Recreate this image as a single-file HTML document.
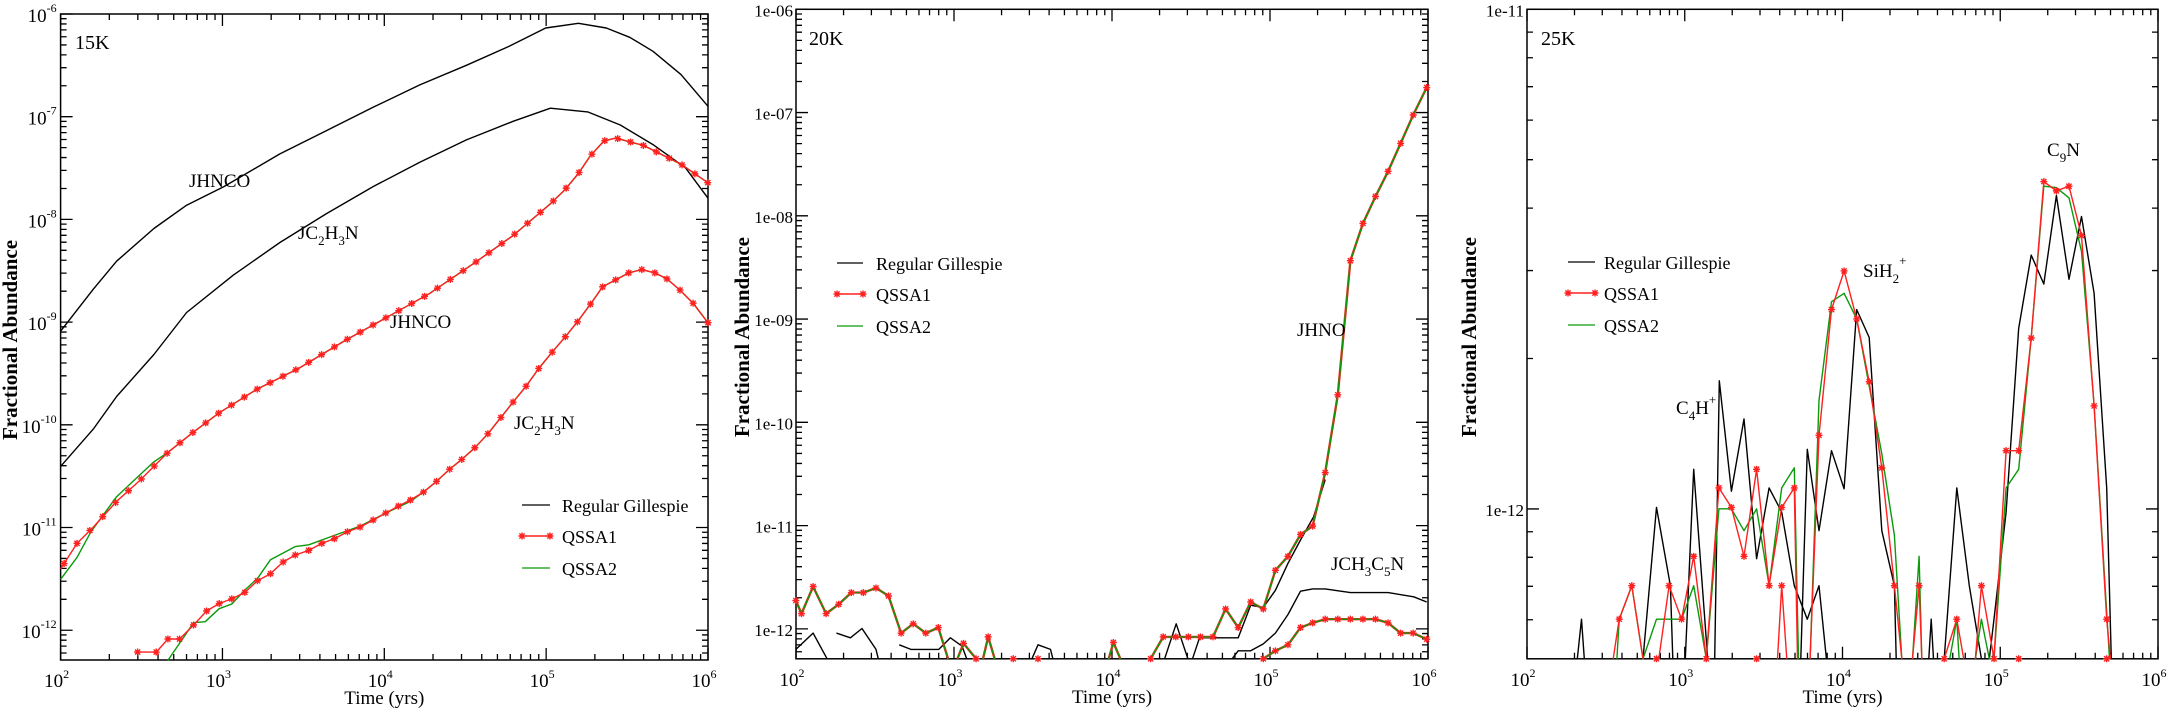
<!DOCTYPE html>
<html><head><meta charset="utf-8"><style>
html,body{margin:0;padding:0;background:#fff}
svg{display:block;font-family:"Liberation Serif",serif}
</style></head><body>
<svg id="s" width="2170" height="708" xmlns="http://www.w3.org/2000/svg"></svg>
<script>
const S=document.getElementById('s');const NS='http://www.w3.org/2000/svg';
function el(t,a,txt){const e=document.createElementNS(NS,t);for(const k in a)e.setAttribute(k,a[k]);if(txt!==undefined)e.textContent=txt;S.appendChild(e);return e;}
function txt(x,y,html,size,anchor,extra){const e=document.createElementNS(NS,'text');e.setAttribute('x',x);e.setAttribute('y',y);e.setAttribute('font-size',size);e.setAttribute('text-anchor',anchor||'start');if(extra)for(const k in extra)e.setAttribute(k,extra[k]);e.innerHTML=html;S.appendChild(e);return e;}
const P=[
 {ox:0,sc:2.144,L:60.6,R:708,T:14,B:660,ytop:-6,ybot:-12.29,decs:[-6,-7,-8,-9,-10,-11,-12],fmt:'pow',yt:10},
 {ox:720,sc:2.148,L:796,R:1428,T:9.3,B:658.8,ytop:-6,ybot:-12.29,decs:[-6,-7,-8,-9,-10,-11,-12],fmt:'e',yt:742},
 {ox:1440,sc:2.148,L:1527,R:2158,T:9.3,B:658.8,ytop:-11,ybot:-12.3,decs:[-11,-12],fmt:'e',yt:1469}
];
P.forEach((p,i)=>{
 const X=l=>p.L+(l-2)/4*(p.R-p.L);const Y=l=>p.T+(p.ytop-l)/(p.ytop-p.ybot)*(p.B-p.T);
 el('rect',{x:p.L,y:p.T,width:p.R-p.L,height:p.B-p.T,fill:'none',stroke:'#000','stroke-width':1.5});
 let d='';
 for(let dec=2;dec<6;dec++)for(let m=1;m<10;m++){const x=X(dec+Math.log10(m));const len=m==1?12:6;d+=`M${x} ${p.B}v${-len}M${x} ${p.T}v${len}`;}
 d+=`M${p.R} ${p.B}v-12M${p.R} ${p.T}v12`;
 for(let dec=Math.floor(p.ybot);dec<p.ytop;dec++)for(let m=1;m<10;m++){const l=dec+Math.log10(m);if(l<p.ybot||l>p.ytop)continue;const y=Y(l);const len=m==1?12:6;d+=`M${p.L} ${y}h${len}M${p.R} ${y}h${-len}`;}
 d+=`M${p.L} ${Y(p.ytop)}h12M${p.R} ${Y(p.ytop)}h-12`;
 el('path',{d:d,stroke:'#000','stroke-width':1.3,fill:'none'});
 for(let dec=2;dec<=6;dec++){txt(X(dec)-4,p.B+27,`10<tspan font-size="12" dy="-9">${dec}</tspan>`,19,'middle');}
 p.decs.forEach(v=>{const y=Y(v);if(p.fmt=='pow')txt(p.L-4,y+8,`10<tspan font-size="12" dy="-10">${v}</tspan>`,19,'end');else txt(p.L-3,y+7,'1e'+(v>-10?'-0'+(-v):v),17,'end');});
 txt((p.L+p.R)/2,p.B+44,'Time (yrs)',19,'middle');
 const cy=(p.T+p.B)/2+3;
 txt(p.yt+7,cy,'Fractional Abundance',21,'middle',{'font-weight':'bold',transform:`rotate(-90 ${p.yt+7} ${cy})`});
});
function line(pi,pts,color,w){const p=P[pi];const d=pts.map((q,k)=>(k?'L':'M')+(p.ox+q[0]/p.sc).toFixed(1)+' '+(q[1]/p.sc).toFixed(1)).join('');el('path',{d:d,stroke:color,'stroke-width':w||1.4,fill:'none','stroke-linejoin':'round'});}
function stars(pi,pts){const p=P[pi];pts.forEach(q=>{const x=p.ox+q[0]/p.sc,y=q[1]/p.sc;el('path',{d:`M${x-3.5} ${y}h7M${x} ${y-3.5}v7M${x-2.6} ${y-2.6}l5.2 5.2M${x-2.6} ${y+2.6}l5.2 -5.2`,stroke:'#ff2020','stroke-width':1.4});});}
function interp(pts,x){for(let k=0;k<pts.length-1;k++){if(x>=pts[k][0]&&x<=pts[k+1][0]){const t=(x-pts[k][0])/(pts[k+1][0]-pts[k][0]||1);return pts[k][1]+t*(pts[k+1][1]-pts[k][1]);}}return null;}
function gridStars(pi,pts,x0,step){const out=[];for(let x=x0;x<=pts[pts.length-1][0]+0.5;x+=step){const y=interp(pts,Math.min(x,pts[pts.length-1][0]));if(y!==null)out.push([x,y]);}stars(pi,out);}
function multi(pi,segs,color,w){segs.forEach(s=>line(pi,s,color,w));}
// Panel 1
line(0,[[130,710],[200,620],[250,560],[330,490],[400,440],[480,400],[600,330],[700,280],[800,230],[900,182],[1000,140],[1090,100],[1170,60],[1240,50],[1300,60],[1350,80],[1400,110],[1460,160],[1518,228]],'#000');
line(0,[[130,1000],[200,920],[250,850],[330,760],[400,670],[500,590],[600,520],[700,458],[800,400],[900,348],[1000,300],[1100,260],[1180,232],[1260,240],[1330,268],[1400,310],[1470,360],[1518,425]],'#000');
const m1=[[130,1220],[165,1165],[200,1130],[250,1075],[300,1030],[330,1000],[360,970],[410,930],[470,885],[550,835],[640,790],[740,730],[830,680],[920,630],[1020,562],[1100,505],[1180,437],[1210,408],[1240,372],[1265,335],[1295,302],[1320,296],[1380,312],[1460,352],[1518,392]];
line(0,[[130,1242],[165,1195],[195,1140],[250,1065],[330,990],[360,970],[410,930]].concat(m1.slice(7)),'#0a9a0a');
line(0,m1,'#ff2020');gridStars(0,m1,137.5,27.6);
const l1=[[295,1398],[335,1398],[360,1370],[385,1370],[415,1340],[443,1310],[470,1294],[497,1284],[525,1270],[552,1245],[580,1230],[607,1205],[633,1190],[662,1180],[690,1165],[717,1155],[745,1140],[772,1130],[800,1115],[827,1100],[854,1085],[880,1072],[908,1055],[936,1032],[964,1006],[990,985],[1018,960],[1046,930],[1074,895],[1100,862],[1128,828],[1155,790],[1184,755],[1212,722],[1238,690],[1266,652],[1292,615],[1320,600],[1348,585],[1376,578],[1404,585],[1430,598],[1458,622],[1486,650],[1518,692]];
line(0,[[360,1416],[415,1335],[440,1333],[470,1305],[497,1295],[525,1265],[552,1240],[580,1200],[633,1172],[662,1168],[717,1148],[772,1128],[827,1100],[880,1075]].concat(l1.slice(22)),'#0a9a0a');
line(0,l1,'#ff2020');stars(0,l1);
// Panel 2
const g2=[[[163,1290],[175,1318],[200,1260],[228,1318],[255,1298],[282,1273],[308,1273],[335,1263],[362,1280],[389,1360],[415,1340],[442,1360],[469,1348],[490,1415]],[[510,1415],[523,1382],[550,1415]],[[565,1415],[576,1368],[590,1415]],[[835,1415],[845,1380],[860,1415]],[[925,1415],[952,1368],[979,1368],[1006,1368],[1032,1368],[1059,1368],[1086,1308],[1113,1348],[1140,1293],[1167,1308],[1193,1225],[1220,1195],[1247,1148],[1273,1130],[1300,1015],[1327,848],[1354,560],[1381,480],[1408,422],[1435,368],[1462,308],[1489,247],[1518,188]]];
multi(1,[[[163,1395],[200,1360],[230,1415]],[[250,1360],[280,1370],[305,1350],[335,1395],[340,1415]],[[385,1385],[410,1395],[470,1395],[495,1370],[520,1388],[530,1415]],[[670,1415],[683,1385],[710,1395],[715,1415]],[[955,1415],[980,1340],[1005,1415]],[[1015,1415],[1030,1370],[1113,1370],[1140,1300],[1167,1305],[1193,1268],[1220,1210],[1247,1160],[1275,1110],[1300,1030]],[[1100,1415],[1113,1398],[1140,1398],[1167,1383],[1193,1360],[1220,1320],[1247,1270],[1273,1265],[1300,1265],[1354,1273],[1435,1273],[1490,1282],[1518,1293]]],'#000');
const c2=[[1167,1415],[1193,1398],[1220,1385],[1247,1348],[1273,1338],[1300,1330],[1327,1330],[1354,1330],[1381,1330],[1408,1330],[1435,1338],[1462,1360],[1489,1360],[1518,1373]];
multi(1,g2,'#ff2020',2.4);multi(1,g2,'#0a9a0a',1.4);line(1,c2,'#ff2020',2.4);line(1,c2,'#0a9a0a',1.4);
g2.forEach(s=>stars(1,s.filter(q=>!(q[1]==1415&&(q[0]==490||q[0]==510||q[0]==565||q[0]==590||q[0]==835||q[0]==860)))));
stars(1,[[630,1415],[683,1415]]);stars(1,c2);
// Panel 3
multi(2,[[[295,1415],[304,1330],[310,1415]],[[436,1415],[465,1090],[495,1258],[500,1415]],[[527,1415],[545,1008],[575,1415]],[[590,1415],[600,818],[626,1055],[653,900],[680,1200],[707,1048],[734,1100],[761,1258],[789,1330],[814,1258],[830,1415]],[[775,1415],[789,965],[814,1140],[841,968],[868,1050],[895,665],[922,725],[949,1140],[976,1258],[980,1415]],[[1050,1415],[1055,1330],[1060,1415]],[[1083,1415],[1110,1048],[1137,1258],[1163,1415]],[[1180,1415],[1190,1330],[1216,1100],[1243,705],[1270,548],[1297,610],[1324,420],[1351,600],[1378,465],[1405,630],[1432,1048],[1442,1415]]],'#000');
multi(2,[[[380,1415],[385,1330],[412,1258],[436,1415],[465,1330],[519,1330],[545,1258],[572,1415],[599,1093],[626,1093],[653,1140],[680,1093],[707,1258],[734,1048],[761,1005],[770,1415]],[[795,1415],[814,860],[841,648],[868,630],[895,685],[949,975],[976,1150],[992,1415]],[[1015,1415],[1029,1195],[1035,1415]],[[1095,1415],[1110,1330],[1115,1415]],[[1150,1415],[1163,1330],[1180,1415],[1190,1415],[1216,1048],[1243,1008],[1270,726],[1297,400],[1324,403],[1351,425],[1378,540],[1405,870],[1438,1415]]],'#0a9a0a');
const r3=[[[372,1415],[385,1330],[412,1258],[436,1415]],[[470,1415],[492,1258],[519,1330],[545,1195],[572,1415],[599,1048],[626,1090],[653,1195],[680,1008],[707,1258],[734,1090],[761,1048],[768,1415]],[[725,1415],[734,1258],[745,1415]],[[795,1415],[814,935],[841,665],[868,582],[895,685],[922,820],[949,1005],[976,1258],[992,1415]],[[1015,1415],[1029,1258],[1035,1415]],[[1083,1415],[1110,1330],[1125,1415]],[[1150,1415],[1163,1258],[1190,1415],[1216,968],[1243,968],[1270,726],[1297,390],[1324,410],[1351,400],[1378,506],[1405,872],[1432,1330],[1440,1415]]];
multi(2,r3,'#ff2020',1.4);
stars(2,[[385,1330],[412,1258],[492,1258],[519,1330],[545,1195],[572,1415],[599,1048],[626,1090],[653,1195],[680,1008],[707,1258],[734,1090],[734,1258],[761,1048],[814,935],[841,665],[868,582],[895,685],[922,820],[949,1005],[976,1258],[1029,1258],[1110,1330],[1163,1258],[1216,968],[1243,968],[1270,726],[1297,390],[1324,410],[1351,400],[1378,506],[1405,872],[1432,1330],[465,1415],[680,1415],[1083,1415],[1190,1415],[1243,1415],[1432,1415]]);
// Legends
[[522,550,505,562],[837,863,263,876],[1568,1595,262,1604]].forEach(g=>{const [a,b,y,tx]=g;
 el('line',{x1:a,x2:b,y1:y,y2:y,stroke:'#000','stroke-width':1.3});
 el('line',{x1:a,x2:b,y1:y+31,y2:y+31,stroke:'#ff2020','stroke-width':1.6});
 [[a,y+31],[b,y+31]].forEach(q=>{const x=q[0],yy=q[1];el('path',{d:`M${x-3.5} ${yy}h7M${x} ${yy-3.5}v7M${x-2.6} ${yy-2.6}l5.2 5.2M${x-2.6} ${yy+2.6}l5.2 -5.2`,stroke:'#ff2020','stroke-width':1.4});});
 el('line',{x1:a,x2:b,y1:y+63,y2:y+63,stroke:'#0a9a0a','stroke-width':1.3});
 txt(tx,y+7,'Regular Gillespie',18);txt(tx,y+38,'QSSA1',18);txt(tx,y+70,'QSSA2',18);
});
// Annotations
txt(75,49,'15K',20);txt(809,45,'20K',20);txt(1541,45,'25K',20);
txt(189,187,'JHNCO',19);
txt(298,239,'JC<tspan font-size="13" dy="6">2</tspan><tspan dy="-6">H</tspan><tspan font-size="13" dy="6">3</tspan><tspan dy="-6">N</tspan>',19);
txt(390,328,'JHNCO',19);
txt(514,429,'JC<tspan font-size="13" dy="6">2</tspan><tspan dy="-6">H</tspan><tspan font-size="13" dy="6">3</tspan><tspan dy="-6">N</tspan>',19);
txt(1297,336,'JHNO',19);
txt(1331,570,'JCH<tspan font-size="13" dy="6">3</tspan><tspan dy="-6">C</tspan><tspan font-size="13" dy="6">5</tspan><tspan dy="-6">N</tspan>',19);
txt(1676,414,'C<tspan font-size="13" dy="6">4</tspan><tspan dy="-6">H</tspan><tspan font-size="13" dy="-10">+</tspan>',19);
txt(1863,277,'SiH<tspan font-size="13" dy="6">2</tspan><tspan font-size="13" dy="-18">+</tspan>',19);
txt(2047,156,'C<tspan font-size="13" dy="6">9</tspan><tspan dy="-6">N</tspan>',19);
</script>
</body></html>
